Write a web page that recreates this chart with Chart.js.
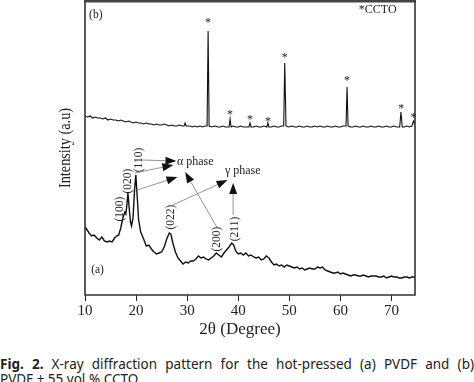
<!DOCTYPE html>
<html>
<head>
<meta charset="utf-8">
<script src="https://cdn.jsdelivr.net/npm/chart.js@4.4.1/dist/chart.umd.min.js"></script>
<style>
html,body{margin:0;padding:0;background:#fff;width:474px;height:382px;overflow:hidden;}
#wrap{position:absolute;left:0;top:0;width:474px;height:340px;}
.cap{position:absolute;left:0;width:474px;font-family:"Noto Sans",sans-serif;font-size:13.5px;color:#222;white-space:nowrap;}
#cap1{top:355px;text-align:justify;text-align-last:justify;white-space:normal;}
#cap2{top:370px;}
</style>
</head>
<body>
<div id="wrap"><canvas id="c" width="474" height="340"></canvas></div>
<div class="cap" id="cap1"><b>Fig. 2.</b> X-ray diffraction pattern for the hot-pressed (a) PVDF and (b)</div>
<div class="cap" id="cap2">PVDF + 55 vol.% CCTO.</div>
<script>
// ---- data (2θ in degrees, intensity in arbitrary units) ----
const xTicks = [10, 20, 30, 40, 50, 60, 70];
const xRange = [10, 74.6];
const yRange = [0, 293];

// (a) hot-pressed PVDF
const pvdfAngle = [10.0,10.3,10.8,11.3,11.8,12.3,12.8,13.3,13.8,14.3,14.8,15.3,15.8,16.2,16.6,17.0,17.4,17.8,18.0,18.2,18.4,18.6,18.9,19.1,19.4,19.7,19.95,20.2,20.5,20.9,21.4,22.0,22.5,23.0,23.5,24.0,24.5,25.0,25.5,26.0,26.5,26.8,27.2,27.7,28.2,28.7,29.2,29.7,30.2,30.7,31.2,31.7,32.2,32.7,33.2,33.7,34.2,34.7,35.2,35.7,36.2,36.7,37.2,37.7,38.2,38.7,39.1,39.5,40.0,40.5,41.0,41.5,42.0,42.5,43.0,43.5,44.0,44.5,45.0,45.5,46.0,46.5,47.0,47.5,48.0,48.5,49.0,49.5,50.0,50.5,51.0,51.5,52.0,52.5,53.0,53.5,54.0,54.5,55.0,55.5,56.0,56.5,57.0,57.5,58.0,58.5,59.0,59.5,60.0,60.5,61.0,61.5,62.0,62.5,63.0,63.5,64.0,64.5,65.0,65.5,66.0,66.5,67.0,67.5,68.0,68.5,69.0,69.5,70.0,70.5,71.0,71.5,72.0,72.5,73.0,73.5,74.0,74.6];
const pvdfInt = [68,66,62,59,60,57,55,58,54,53,54,53,57,59,60,67,77,83,81,90,102,90,73,69,77,105,120,100,75,63,57,49,50,46,43,41,42,43,48,56,62,61,52,43,37,34,31,33,32,34,34,36,39,37,38,36,35,37,39,42,40,38,42,45,48,52,50,44,41,42,40,42,39,40,38,37,38,35,36,39,37,33,30,31,29,30,28,30,29,28,27,28,26,27,25,26,27,26,26,28,27,28,25,24,23,22,22,23,21,22,21,20,19,20,20,19,19,20,19,18,19,19,19,18,18,19,17,18,19,18,18,17,17,18,18,17,18,18,19,18];

// (b) PVDF + 55 vol.% CCTO
const compAngle = [10,10.5,11,11.5,12,12.5,13,13.5,14,14.5,15,15.5,16,16.5,17,17.5,18,18.5,19,19.5,20,20.5,21,21.5,22,22.5,23,23.5,24,24.5,25,25.5,26,26.5,27,27.5,28,28.5,29,29.4,29.6,29.8,30.5,31,31.5,32,32.5,33,33.5,33.9,34.1,34.3,34.8,35.5,36,36.5,37,37.5,38.2,38.4,38.6,39,39.5,40,40.5,41,41.5,42.1,42.3,42.5,43,43.5,44,44.5,45,45.6,45.8,46,46.5,47,47.5,48,48.5,48.9,49.1,49.35,49.8,50.5,51,51.5,52,52.5,53,53.5,54,54.5,55,55.5,56,56.5,57,57.5,58,58.5,59,59.5,60,60.5,61.1,61.3,61.5,62,62.5,63,63.5,64,64.5,65,65.5,66,66.5,67,67.5,68,68.5,69,69.5,70,70.5,71,71.6,71.85,72.1,72.5,73,73.5,74.0,74.3,74.6];
const compInt = [179,178,179,177,178,177,177,176,177,175,176,175,175,174,175,174,173,174,173,172,173,172,172,171,172,171,171,170,171,170,170,171,170,169,170,169,169,170,169,169,172,169,169,168,169,168,169,168,169,169,264,169,168,169,168,168,169,168,168,176,168,169,168,168,169,168,168,168,172,168,168,169,168,168,169,168,172,168,168,169,168,168,169,169,232,169,168,169,168,168,169,168,168,169,168,168,169,168,169,168,168,169,168,168,169,168,168,169,169,208,169,168,168,169,168,168,169,168,168,169,168,168,169,168,168,169,168,168,169,168,168,183,168,168,169,168,169,174,170];

// CCTO reflections marked with *
const cctoPeakAngle = [34.1, 38.4, 42.3, 45.8, 49.1, 61.3, 71.9, 74.3];
const cctoStarInt   = [274, 182, 177, 175, 239, 216, 188, 179];

// annotations (data coordinates)
const hklLabels = ["(110)", "(020)", "(100)", "(022)", "(200)", "(211)"];
const hklAngle  = [20.55, 18.4, 16.85, 26.8, 35.8, 39.35];
const hklInt    = [135, 114, 86, 78, 56, 66];
const arrowFrom = [[21.15,135],[19.8,122],[20.2,105],[35.8,68],[27.2,90],[39.0,80]];
const arrowTo   = [[27.9,134],[27.3,130],[28.1,118],[29.6,123],[37.9,115],[39.0,112]];
const phaseLabels = ["\u03b1 phase", "\u03b3 phase"];
const phasePos = [[28.0,133],[37.4,124]];
const sampleLabels = ["(b)", "(a)"];
const samplePos = [[10.8,280],[11.2,25]];
const legendText = "*CCTO";
const legendPos = [67.3,285];
const xTitle = "2\u03b8 (Degree)";
const yTitle = "Intensity (a.u)";

const toXY = (xs, ys) => xs.map((v, i) => ({x: v, y: ys[i]}));

const serif = '"Liberation Serif","DejaVu Serif",serif';

const deco = {
  id: 'deco',
  afterDatasetsDraw(chart) {
    const ctx = chart.ctx, sx = chart.scales.x, sy = chart.scales.y, a = chart.chartArea;
    const px = v => sx.getPixelForValue(v), py = v => sy.getPixelForValue(v);
    ctx.save();
    // frame
    ctx.strokeStyle = '#444'; ctx.lineWidth = 3;
    ctx.beginPath(); ctx.moveTo(a.left - 1, a.top - 1); ctx.lineTo(a.right + 1, a.top - 1); ctx.stroke();
    ctx.strokeStyle = '#333'; ctx.lineWidth = 1.6;
    ctx.beginPath(); ctx.moveTo(a.left, a.top); ctx.lineTo(a.left, a.bottom); ctx.lineTo(a.right, a.bottom); ctx.lineTo(a.right, a.top); ctx.stroke();

    ctx.fillStyle = '#222';
    // asterisks
    ctx.font = '12px ' + serif; ctx.textAlign = 'center'; ctx.textBaseline = 'middle';
    cctoPeakAngle.forEach((v, i) => ctx.fillText('*', px(v), py(cctoStarInt[i]) + 2));
    // legend
    ctx.font = '12px ' + serif;
    ctx.fillText(legendText, px(legendPos[0]), py(legendPos[1]));
    // sample labels
    ctx.font = '11.5px ' + serif; ctx.textAlign = 'left';
    sampleLabels.forEach((t, i) => ctx.fillText(t, px(samplePos[i][0]), py(samplePos[i][1])));
    // phase labels
    ctx.font = '12px ' + serif;
    phaseLabels.forEach((t, i) => ctx.fillText(t, px(phasePos[i][0]), py(phasePos[i][1])));
    // hkl labels
    ctx.font = '11.5px ' + serif; ctx.textAlign = 'center';
    hklLabels.forEach((t, i) => {
      ctx.save(); ctx.translate(px(hklAngle[i]), py(hklInt[i])); ctx.rotate(-Math.PI / 2);
      ctx.fillText(t, 0, 0); ctx.restore();
    });
    // arrows
    arrowFrom.forEach((f, i) => {
      const x1 = px(f[0]), y1 = py(f[1]), x2 = px(arrowTo[i][0]), y2 = py(arrowTo[i][1]);
      const ang = Math.atan2(y2 - y1, x2 - x1), L = 11, W = 4;
      const bx = x2 - L * Math.cos(ang), by = y2 - L * Math.sin(ang);
      ctx.strokeStyle = '#888'; ctx.lineWidth = 0.9;
      ctx.beginPath(); ctx.moveTo(x1, y1); ctx.lineTo(bx, by); ctx.stroke();
      ctx.fillStyle = '#111';
      ctx.beginPath(); ctx.moveTo(x2, y2);
      ctx.lineTo(bx + W * Math.sin(ang), by - W * Math.cos(ang));
      ctx.lineTo(bx - W * Math.sin(ang), by + W * Math.cos(ang));
      ctx.closePath(); ctx.fill();
    });
    // axis titles
    ctx.fillStyle = '#222';
    ctx.font = '17px ' + serif; ctx.textAlign = 'center'; ctx.textBaseline = 'middle';
    ctx.fillText(xTitle, 240, 330);
    ctx.save(); ctx.translate(66, 148); ctx.rotate(-Math.PI / 2); ctx.scale(0.84, 1);
    ctx.fillText(yTitle, 0, 0); ctx.restore();
    ctx.restore();
  }
};

new Chart(document.getElementById('c'), {
  type: 'line',
  data: {
    datasets: [
      {data: toXY(pvdfAngle, pvdfInt), borderColor: '#111', borderWidth: 1.4, pointRadius: 0, tension: 0},
      {data: toXY(compAngle, compInt), borderColor: '#111', borderWidth: 1.1, pointRadius: 0, tension: 0}
    ]
  },
  options: {
    responsive: false, animation: false, events: [],
    layout: {padding: {left: 85, right: 59, top: 2, bottom: 0}},
    plugins: {legend: {display: false}, tooltip: {enabled: false}},
    scales: {
      x: {
        type: 'linear', min: xRange[0], max: xRange[1],
        afterBuildTicks: s => { s.ticks = xTicks.map(v => ({value: v})); },
        afterFit: s => { s.height = 45; },
        grid: {display: true, drawOnChartArea: false, drawTicks: true, tickLength: 6, color: '#222', lineWidth: 1},
        border: {display: false},
        ticks: {font: {family: serif, size: 15}, color: '#222', padding: 1, maxRotation: 0, autoSkip: false}
      },
      y: {type: 'linear', min: yRange[0], max: yRange[1], display: false}
    }
  },
  plugins: [deco]
});
</script>
</body>
</html>
